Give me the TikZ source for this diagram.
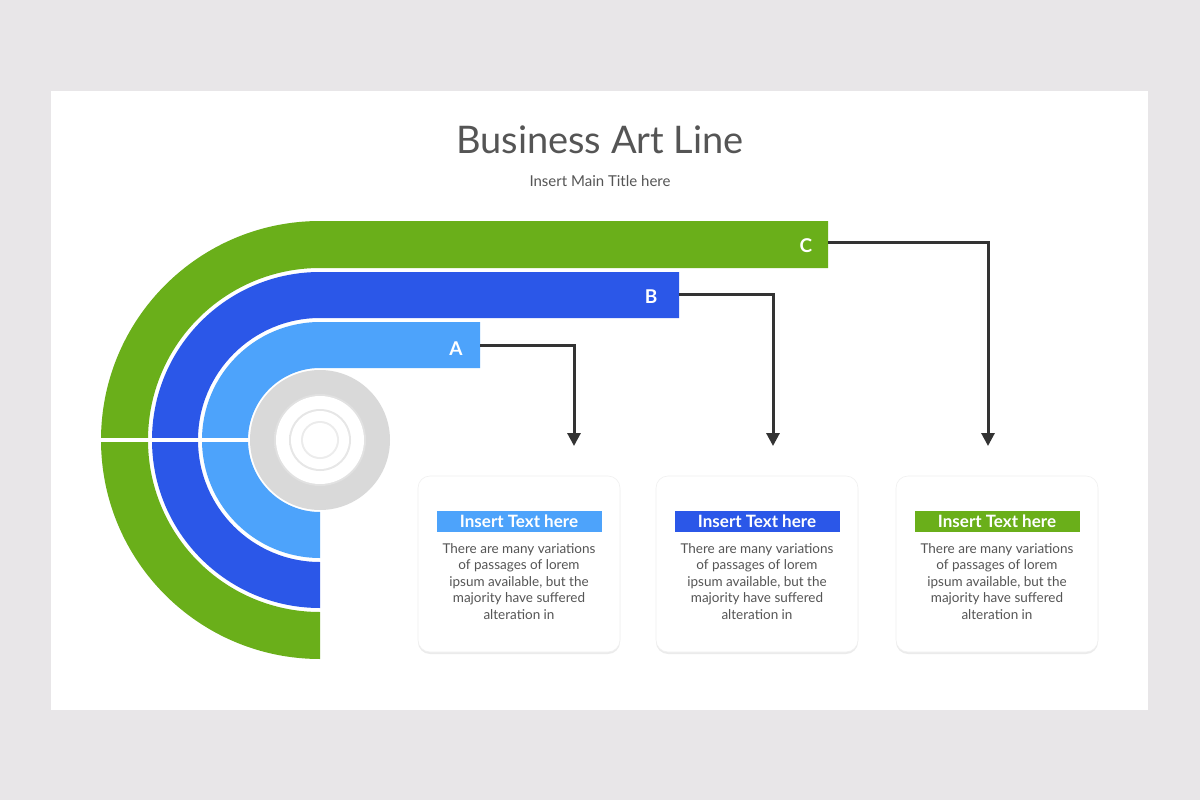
\documentclass[tikz,border=0pt]{standalone}
\usepackage{fontspec}
\setmainfont{Lato}
\usetikzlibrary{arrows.meta,shadows}
\definecolor{cgreen}{HTML}{6AAF1A}
\definecolor{cblue}{HTML}{2B57E8}
\definecolor{clight}{HTML}{4DA3FB}
\definecolor{ctext}{HTML}{555555}
\definecolor{cline}{HTML}{333333}
\definecolor{cbg}{HTML}{E8E6E8}
\definecolor{cgray}{HTML}{D9D9D9}
\tikzset{
  conn/.style={draw=cline,line width=3pt,-{Triangle[length=13pt,width=13pt]}},
  card/.style={draw=black!6,fill=white,rounded corners=12pt,line width=0.6pt,
     drop shadow={shadow xshift=0pt,shadow yshift=-2pt,opacity=0.08,fill=black}},
  head/.style={text=white,font=\bfseries\fontsize{17}{17}\selectfont,minimum width=165pt,minimum height=21pt,inner sep=0pt},
  body/.style={text=ctext,font=\fontsize{13.5}{16.5}\selectfont,align=center},
  barlbl/.style={text=white,font=\bfseries\fontsize{19}{19}\selectfont}
}
\newcommand{\bandshape}[4]{% rin rout X color
  \fill[#4] (320-#2,440) arc[start angle=180,end angle=270,radius=#2] -- (#3,440-#2) -- (#3,440-#1) -- (320,440-#1) arc[start angle=270,end angle=180,radius=#1] -- cycle;
  \fill[#4] (320-#2,440) arc[start angle=180,end angle=90,radius=#2] -- (320,440+#1) arc[start angle=90,end angle=180,radius=#1] -- cycle;
}
\begin{document}
\begin{tikzpicture}[x=1pt,y=-1pt]
\fill[cbg] (0,0) rectangle (1200,800);
\useasboundingbox (0,0) rectangle (1200,800);
\fill[white] (51,91) rectangle (1148,710);
\node[text=ctext,font=\fontsize{38}{38}\selectfont] (title) at (600,140) {Business Art Line};
\node[text=ctext,font=\fontsize{15}{15}\selectfont] (sub) at (600,181) {Insert Main Title here};
% bands
\bandshape{172}{219}{828}{cgreen}
\bandshape{122}{168}{679}{cblue}
\bandshape{72}{118}{480}{clight}
\draw[white,line width=4pt,-{Triangle[length=9pt,width=11pt]}] (100,440) -- (268,440);
% center
\fill[cgray] (320,440) circle[radius=70];
\shade[inner color=white,outer color=black!12] (320,440) circle[radius=46];
\fill[white] (320,440) circle[radius=44];
\shade[inner color=white,outer color=black!10] (320,440) circle[radius=31];
\fill[white] (320,440) circle[radius=29];
\shade[inner color=white,outer color=black!8] (320,440) circle[radius=19];
\fill[white] (320,440) circle[radius=17];
% labels / bar ends
\node[barlbl] (lA) at (456,349) {A};
\node[barlbl] (lB) at (651,297) {B};
\node[barlbl] (lC) at (806,246) {C};
\coordinate (eA) at (480,345);
\coordinate (eB) at (679,294);
\coordinate (eC) at (828,242);
\coordinate (tA) at (574,446);
\coordinate (tB) at (773,446);
\coordinate (tC) at (988,446);
\draw[conn] (eA) -| (tA);
\draw[conn] (eB) -| (tB);
\draw[conn] (eC) -| (tC);
% cards
\foreach \n/\x/\c in {A/519/clight,B/757/cblue,C/997/cgreen}{
  \path[card] (\x-101,476) rectangle (\x+101,652);
  \node[head,fill=\c] (h\n) at (\x,521.5) {Insert Text here};
  \node[body,anchor=north] (b\n) at (\x,540) {There are many variations\\of passages of lorem\\ipsum available, but the\\majority have suffered\\alteration in};
}
\end{tikzpicture}
\end{document}
